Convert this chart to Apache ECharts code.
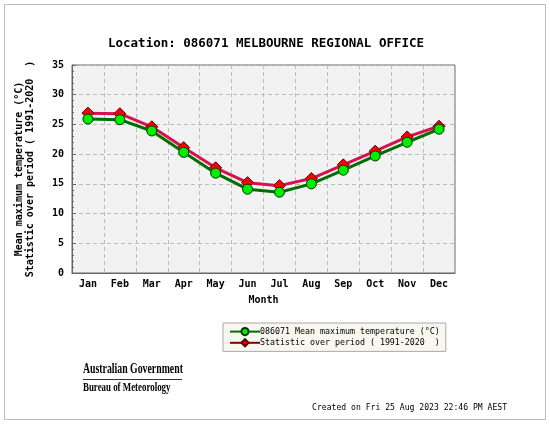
<!DOCTYPE html>
<html><head><meta charset="utf-8">
<script src="https://cdn.jsdelivr.net/npm/echarts@6/dist/echarts.min.js"></script>
<style>html,body{margin:0;padding:0;background:#fff}#c{width:550px;height:425px}</style>
</head><body><div id="c"></div>
<script>
var months = ['Jan','Feb','Mar','Apr','May','Jun','Jul','Aug','Sep','Oct','Nov','Dec'];
var meanMax = [25.9, 25.8, 23.9, 20.3, 16.8, 14.1, 13.6, 15.0, 17.3, 19.7, 22.0, 24.2];
var period = [26.9, 26.8, 24.6, 21.1, 17.7, 15.2, 14.7, 15.9, 18.2, 20.5, 22.9, 24.7];
var seriesNames = ['086071 Mean maximum temperature (°C)', 'Statistic over period ( 1991-2020  )'];
var mono = 'DejaVu Sans Mono';
var chart = echarts.init(document.getElementById('c'));
chart.setOption({
  backgroundColor: '#fff',
  animation: false,
  title: {
    text: 'Location: 086071 MELBOURNE REGIONAL OFFICE',
    left: 103, top: 32,
    textStyle: {fontFamily: mono, fontSize: 12.5, fontWeight: 'bold', color: '#000'}
  },
  grid: {left: 72, right: 95, top: 65, bottom: 152, show: true, backgroundColor: '#f2f2f2', borderColor: '#666', borderWidth: 1},
  legend: {
    orient: 'vertical', left: 223, top: 323, itemGap: 2, itemWidth: 30, itemHeight: 9,
    padding: [4, 6, 4, 6],
    backgroundColor: '#f7f7ef', borderColor: '#aaa', borderWidth: 1,
    textStyle: {fontFamily: mono, fontSize: 8.3, color: '#000', padding: [0,0,0,-5]},
    data: [
      {name: seriesNames[0], lineStyle: {color: '#006f00'}},
      {name: seriesNames[1], lineStyle: {color: '#800000'}}
    ]
  },
  xAxis: {
    type: 'category', data: months,
    name: 'Month', nameLocation: 'middle', nameGap: 22,
    nameTextStyle: {fontFamily: mono, fontSize: 10, fontWeight: 'bold', color: '#000'},
    axisLine: {lineStyle: {color: '#666'}},
    axisTick: {alignWithLabel: true, length: 4, lineStyle: {color: '#666'}},
    axisLabel: {fontFamily: mono, fontSize: 10, fontWeight: 'bold', color: '#000', margin: 6},
    splitLine: {show: true, interval: 0, lineStyle: {color: '#bbb', type: [4, 3]}}
  },
  yAxis: {
    type: 'value', min: 0, max: 35, interval: 5,
    name: 'Mean maximum temperature (°C)\nStatistic over period ( 1991-2020  )',
    nameLocation: 'middle', nameRotate: 90, nameGap: 36,
    nameTextStyle: {fontFamily: mono, fontSize: 10, fontWeight: 'bold', color: '#000', lineHeight: 11},
    axisLine: {show: true, lineStyle: {color: '#666'}},
    axisTick: {show: true, inside: true, length: 4, lineStyle: {color: '#666'}},
    minorTick: {show: true, splitNumber: 5, length: 2, lineStyle: {color: '#666'}},
    axisLabel: {fontFamily: mono, fontSize: 10, fontWeight: 'bold', color: '#000', margin: 8},
    splitLine: {show: true, lineStyle: {color: '#bbb', type: [4, 3]}}
  },
  series: [
    {
      name: seriesNames[0], type: 'line', data: meanMax, z: 3,
      symbol: 'circle', symbolSize: 10,
      lineStyle: {color: '#006f00', width: 3},
      itemStyle: {color: '#00ee00', borderColor: '#003300', borderWidth: 1}
    },
    {
      name: seriesNames[1], type: 'line', data: period, z: 2,
      symbol: 'diamond', symbolSize: 12,
      lineStyle: {color: '#d81050', width: 3},
      itemStyle: {color: '#ff0000', borderColor: '#550000', borderWidth: 1}
    }
  ],
  graphic: [
    {type: 'rect', shape: {x: 4.5, y: 4.5, width: 541, height: 415}, style: {fill: 'none', stroke: '#bbb', lineWidth: 1}, silent: true, z: -1},
    {type: 'text', x: 83, y: 362, scaleX: 0.7, style: {text: 'Australian Government', fontFamily: 'Liberation Serif', fontSize: 14, fontWeight: 'bold', fill: '#000'}},
    {type: 'rect', shape: {x: 83, y: 379, width: 99, height: 1}, style: {fill: '#333'}},
    {type: 'text', x: 83, y: 382, scaleX: 0.74, style: {text: 'Bureau of Meteorology', fontFamily: 'Liberation Serif', fontSize: 12, fontWeight: 'bold', fill: '#000'}},
    {type: 'text', x: 507, y: 404, style: {text: 'Created on Fri 25 Aug 2023 22:46 PM AEST', align: 'right', fontFamily: mono, fontSize: 8.1, fill: '#000'}}
  ]
});
</script></body></html>
